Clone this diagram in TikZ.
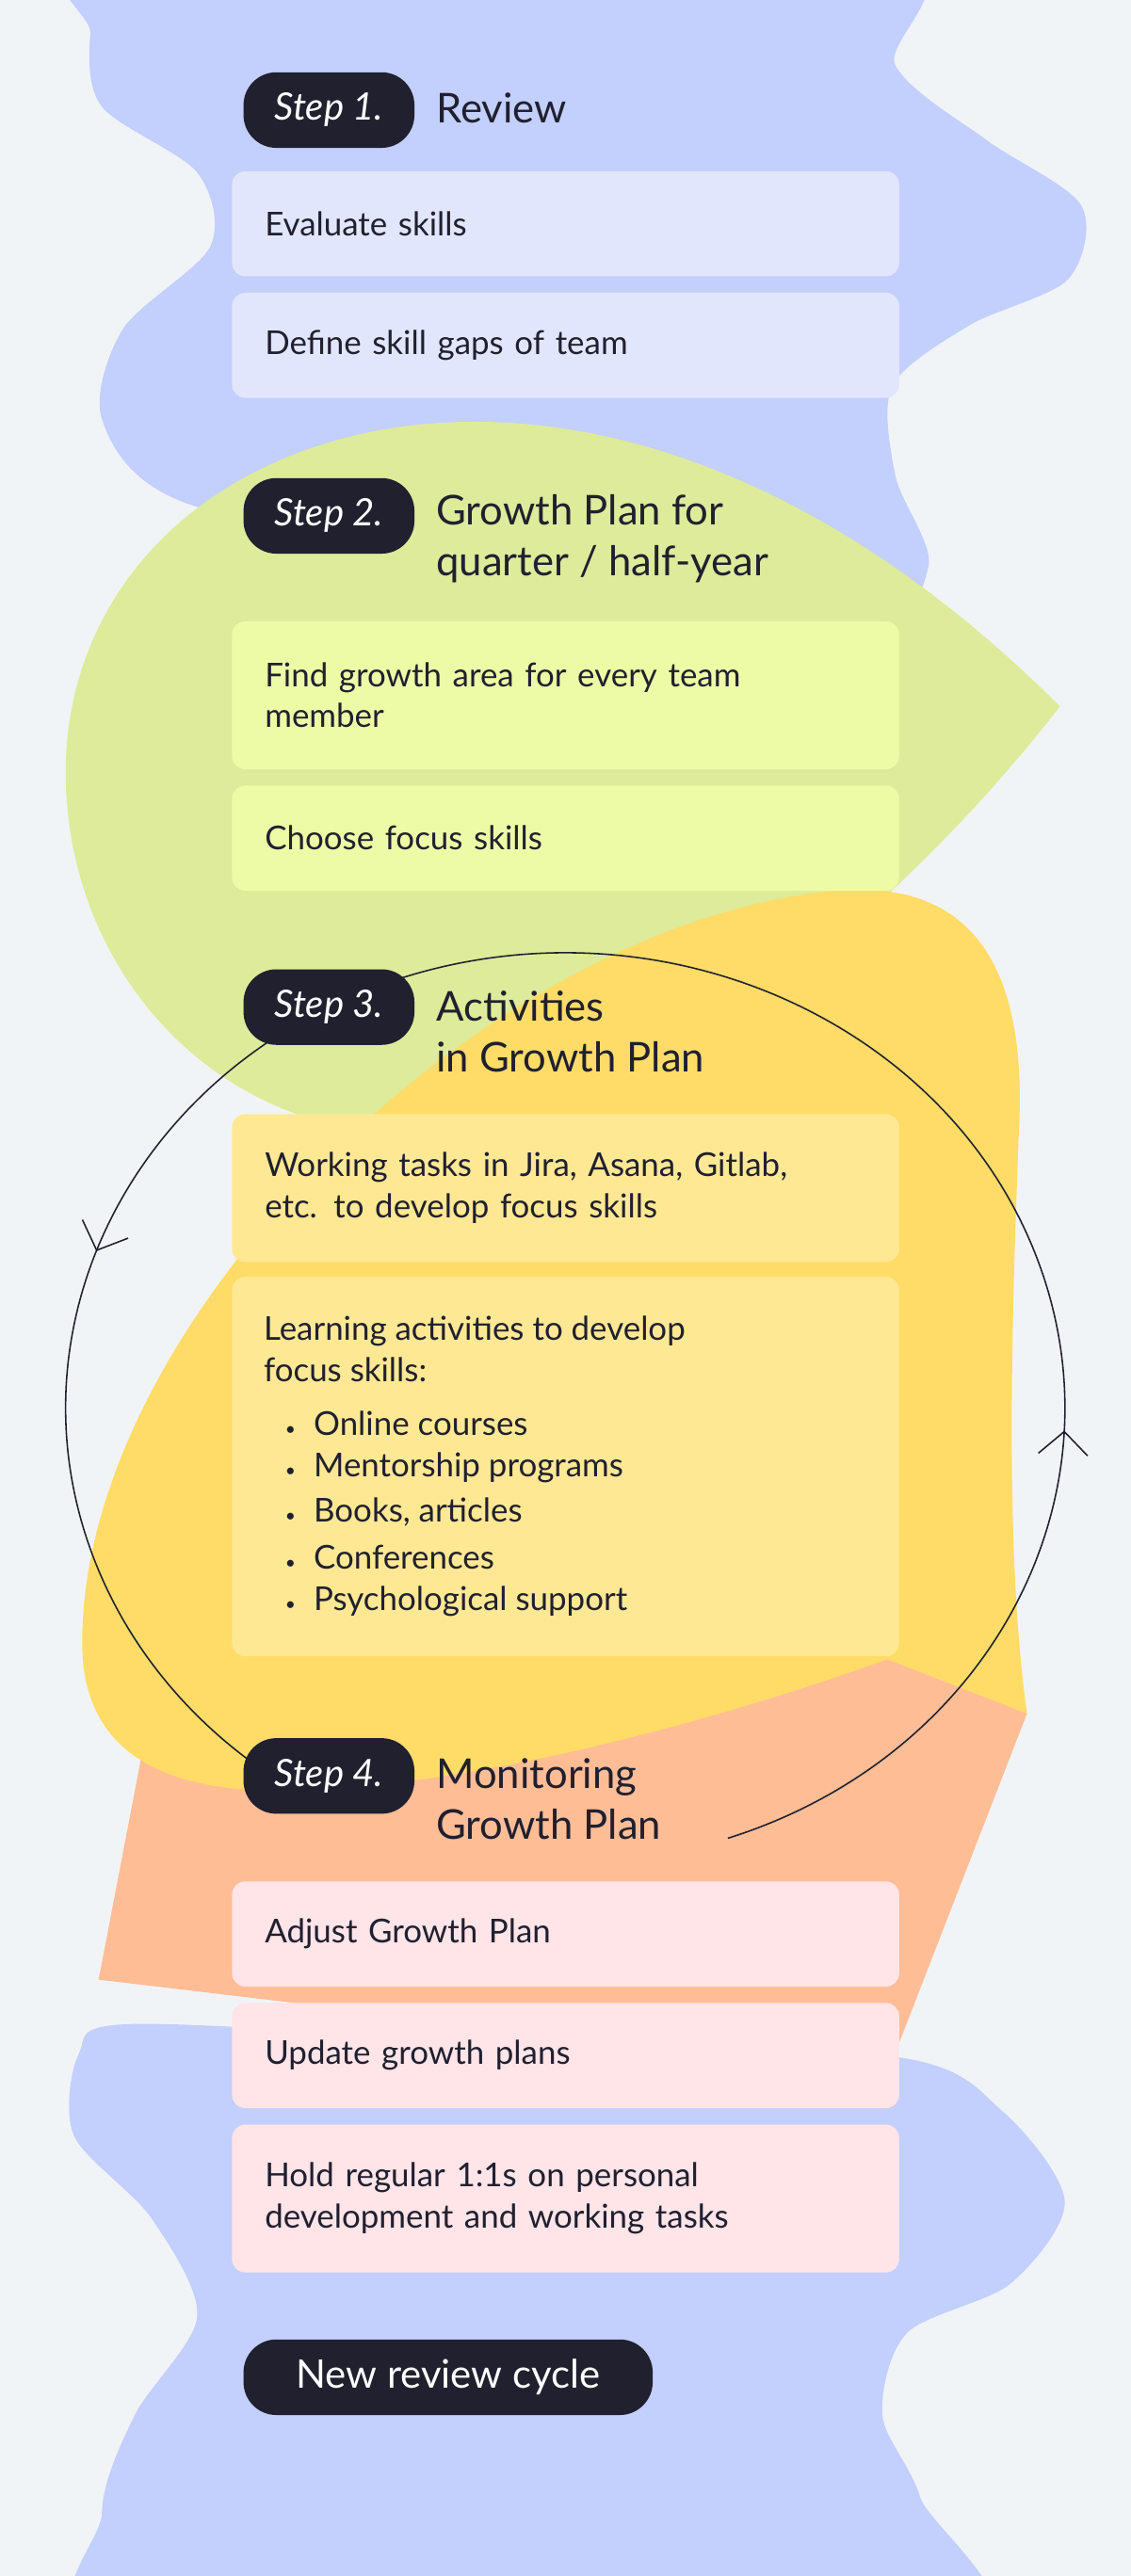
\documentclass[tikz,border=0pt]{standalone}
\usepackage{fontspec}
\setmainfont{Lato}
\usetikzlibrary{arrows.meta,decorations.markings}
\definecolor{bg}{HTML}{F1F4F7}
\definecolor{blueb}{HTML}{C3CFFC}
\definecolor{bluebox}{HTML}{E2E6FD}
\definecolor{greenb}{HTML}{DDEB9B}
\definecolor{greenbox}{HTML}{EEFBA6}
\definecolor{yellowb}{HTML}{FFDC67}
\definecolor{yellowbox}{HTML}{FFE894}
\definecolor{orangeb}{HTML}{FFBD96}
\definecolor{pinkbox}{HTML}{FFE4E8}
\definecolor{ink}{HTML}{20202F}
\begin{document}
\begin{tikzpicture}[x=1pt,y=-1pt,
  box/.style={anchor=north west,rounded corners=8pt,minimum width=406pt,text width=366pt,inner xsep=20pt,align=left,font=\fontsize{20}{25}\selectfont,text=ink},
  pill/.style={fill=ink,rounded corners=20pt,text=white,minimum height=46pt,minimum width=104pt,anchor=west,font=\fontsize{23}{28}\selectfont\itshape,inner xsep=10pt},
  ttl/.style={anchor=west,align=left,font=\fontsize{25}{31}\selectfont,text=ink},
  bul/.style={anchor=west,font=\fontsize{20}{25}\selectfont,text=ink}]
\useasboundingbox (0,0) rectangle (688,1568);
\fill[bg] (0,0) rectangle (688,1568);
\begin{scope}
\clip (0,0) rectangle (688,1568);
% top blue blob
\fill[blueb] plot[smooth cycle,tension=0.5] coordinates {(70,-30) (535,-30) (545,40) (600,85) (658,125) (650,170) (590,198) (543,235) (545,290) (565,345) (520,385) (300,350) (110,305) (62,255) (75,200) (128,150) (120,105) (62,65) (55,20)};
% green leaf
\fill[greenb] (645,430) .. controls (500,285) and (350,240) .. (230,262) .. controls (110,285) and (40,370) .. (40,470) .. controls (40,590) and (130,690) .. (250,690) .. controls (400,690) and (560,540) .. (645,430) -- cycle;
% bottom blue blob
\fill[blueb] plot[smooth cycle,tension=0.5] coordinates {(80,1232) (300,1242) (545,1252) (610,1285) (648,1340) (615,1390) (552,1420) (537,1470) (560,1520) (580,1610) (80,1610) (62,1530) (82,1470) (120,1410) (92,1350) (45,1300) (48,1250)};
% orange quad
\fill[orangeb] (130,840) -- (625,1043) -- (540,1262) -- (60,1205) -- cycle;
% yellow blob
\fill[yellowb] (50,1000) .. controls (50,800) and (300,560) .. (510,542) .. controls (600,535) and (625,600) .. (620,690) .. controls (615,820) and (612,950) .. (625,1043) -- (540,1010) .. controls (400,1060) and (260,1090) .. (170,1090) .. controls (90,1090) and (50,1060) .. (50,1000) -- cycle;
\end{scope}
% cycle arc
\draw[ink,line width=0.9pt,decoration={markings,
  mark=at position 0.225 with {\arrow{Straight Barb[length=14pt,width=30pt,line width=0.9pt]}},
  mark=at position 0.77 with {\arrow{Straight Barb[length=14pt,width=30pt,line width=0.9pt]}}},postaction={decorate}]
  (344,857) ++(71:304 and 277) arc[start angle=71,end angle=-231,x radius=304,y radius=277];
% step 1
\node[pill] (p1) at (148,67) {Step 1.};
\node[ttl] (t1) at (262,66) {Review};
\node[box,fill=bluebox,minimum height=64pt] (b11) at (141,104) {Evaluate skills};
\node[box,fill=bluebox,minimum height=64pt] (b12) at (141,178) {Define skill gaps of team};
% step 2
\node[pill] (p2) at (148,314) {Step 2.};
\node[ttl] (t2) at (262,328) {Growth Plan for\\quarter / half-year};
\node[box,fill=greenbox,minimum height=90pt] (b21) at (141,378) {Find growth area for every team\\member};
\node[box,fill=greenbox,minimum height=64pt] (b22) at (141,478) {Choose focus skills};
% step 3
\node[pill] (p3) at (148,613) {Step 3.};
\node[ttl] (t3) at (262,628) {Activities\\in Growth Plan};
\node[box,fill=yellowbox,minimum height=90pt] (b31) at (141,678) {Working tasks in Jira, Asana, Gitlab,\\etc. to develop focus skills};
\node[box,fill=yellowbox,minimum height=231pt] (b32) at (141,777) {};
\node[bul,align=left] (l0) at (157,821) {Learning activities to develop\\focus skills:};
\foreach \t [count=\i] in {Online courses,Mentorship programs,{Books, articles},Conferences,Psychological support}
  \node[bul] (l\i) at (170,839+27.2*\i) {{\fontsize{11}{11}\selectfont•}\hspace{11pt}\t};
% step 4
\node[pill] (p4) at (148,1081) {Step 4.};
\node[ttl] (t4) at (262,1095) {Monitoring\\Growth Plan};
\node[box,fill=pinkbox,minimum height=64pt] (b41) at (141,1145) {Adjust Growth Plan};
\node[box,fill=pinkbox,minimum height=64pt] (b42) at (141,1219) {Update growth plans};
\node[box,fill=pinkbox,minimum height=90pt] (b43) at (141,1293) {Hold regular 1:1s on personal\\development and working tasks};
\node[pill,font=\fontsize{24}{28}\selectfont,minimum width=249pt] (nr) at (148,1447) {New review cycle};
\end{tikzpicture}
\end{document}
